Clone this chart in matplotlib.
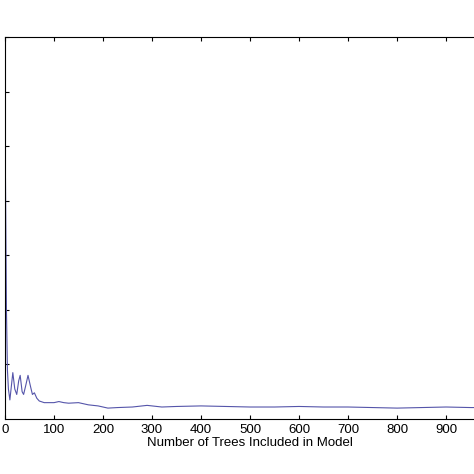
import matplotlib as mpl
import matplotlib.pyplot as plt
import numpy as np

mpl.rcParams.update({"font.family": "Liberation Sans", "font.size": 9.5})

trees = [1, 3, 5, 7, 10, 13, 16, 20, 24, 28, 31, 35, 38, 42, 47, 52, 56, 60, 65, 70, 80,
         90, 100, 110, 120, 130, 150, 170, 190, 210, 230, 260, 290, 320, 350, 400, 450,
         500, 550, 600, 650, 700, 750, 800, 850, 900, 950, 1000]
error = [4.4, 2.0, 0.9, 0.55, 0.35, 0.6, 0.85, 0.55, 0.45, 0.7, 0.8, 0.5, 0.45, 0.6, 0.8,
         0.6, 0.45, 0.48, 0.38, 0.33, 0.3, 0.3, 0.3, 0.32, 0.3, 0.29, 0.3, 0.26, 0.24,
         0.2, 0.21, 0.22, 0.25, 0.22, 0.23, 0.24, 0.23, 0.22, 0.22, 0.23, 0.22, 0.22, 0.21, 0.2,
         0.21, 0.22, 0.21, 0.21]

fig = plt.figure(figsize=(4.74, 4.74), dpi=100)
ax = fig.add_axes([0.0105, 0.116, 1.034, 0.806])
ax.plot(trees, error, color="#5555aa", lw=0.8)
ax.set_xlim(0, 1000)
ax.set_ylim(0, 7)
ax.set_xticks(range(0, 1001, 100))
ax.set_xticklabels([str(v) for v in range(0, 901, 100)] + [""])
ax.set_yticks(range(1, 8))
ax.set_yticklabels([])
ax.tick_params(direction="in", top=True, right=True, length=3)
ax.set_xlabel("Number of Trees Included in Model", labelpad=1)
fig.savefig("out.png")
